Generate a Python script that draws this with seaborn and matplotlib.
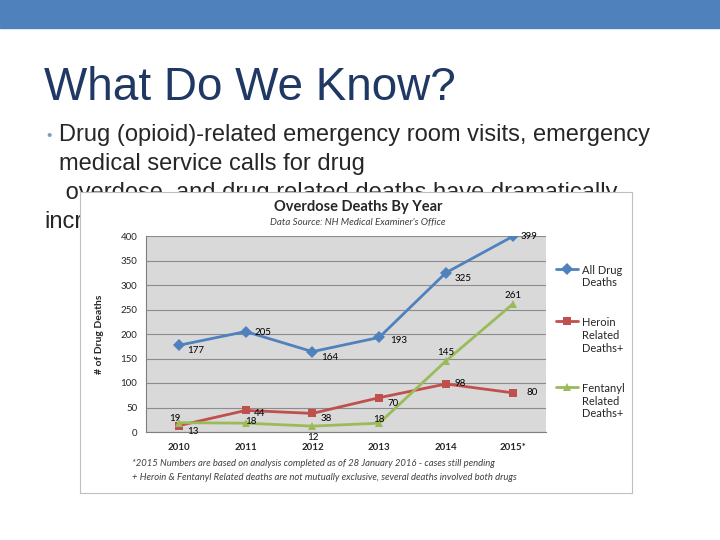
import matplotlib
matplotlib.use('Agg')
import matplotlib.pyplot as plt
from matplotlib.patches import Rectangle
import seaborn as sns
import pandas as pd

# Data
years = ['2010', '2011', '2012', '2013', '2014', '2015*']
all_drug = [177, 205, 164, 193, 325, 399]
heroin = [13, 44, 38, 70, 98, 80]
fentanyl = [19, 18, 12, 18, 145, 261]
series_names = ['All Drug\nDeaths', 'Heroin\nRelated\nDeaths+', 'Fentanyl\nRelated\nDeaths+']

# label offsets (points) per series
off_all = [(6, -4), (6, -1), (6, -4), (8, -2), (6, -4), (6, 0)]
off_her = [(6, -4), (6, -2), (6, -4), (6, -4), (6, 0), (10, 0)]
off_fen = [(-3, 3), (4, 1), (0, -8), (0, 3), (0, 6), (0, 6)]

sns.set_style('white')
plt.rcParams['font.family'] = ['Lato', 'DejaVu Sans']

W, H = 720, 540
fig = plt.figure(figsize=(7.2, 5.4), dpi=100)


def frac(x, y):
    return x / W, 1 - y / H


# slide background
bg = fig.add_axes([0, 0, 1, 1], zorder=0)
bg.set_xlim(0, W)
bg.set_ylim(H, 0)
bg.axis('off')
bg.add_patch(Rectangle((0, 0), W, 28, color='#4F81BD'))
slide_font = ['Liberation Sans', 'DejaVu Sans']
bg.text(44, 100, 'What Do We Know?', fontsize=33, color='#1F3864',
        family=slide_font, va='baseline')
bg.text(46, 140, '\u2022', fontsize=11, color='#7F9FBF', family=slide_font, va='baseline')
body = ['Drug (opioid)-related emergency room visits, emergency',
        'medical service calls for drug',
        ' overdose, and drug related deaths have dramatically']
for i, line in enumerate(body):
    bg.text(59, 141 + i * 29, line, fontsize=17, color='#262626',
            family=slide_font, va='baseline')
bg.text(44, 228, 'increased', fontsize=17, color='#262626',
        family=slide_font, va='baseline')

# chart box
x0, y0 = frac(80, 493)
box = fig.add_axes([x0, y0, 552 / W, 301 / H], zorder=1)
box.set_facecolor('white')
box.set_xticks([])
box.set_yticks([])
for s in box.spines.values():
    s.set_color('#BFBFBF')

# plot area
px0, py0 = frac(145.6, 432)
ax = fig.add_axes([px0, py0, 400.4 / W, 196 / H], zorder=2)
ax.set_facecolor('#D9D9D9')

df = pd.DataFrame({'year': years * 3,
                   'deaths': all_drug + heroin + fentanyl,
                   'series': [series_names[0]] * 6 + [series_names[1]] * 6 + [series_names[2]] * 6})
sns.lineplot(data=df, x='year', y='deaths', hue='series', style='series',
             palette=['#4F81BD', '#C0504D', '#9BBB59'],
             markers=['D', 's', '^'], dashes=False, sort=False,
             linewidth=2, markersize=6, markeredgewidth=0, ax=ax)

for vals, offs in [(all_drug, off_all), (heroin, off_her)]:
    for i, (v, o) in enumerate(zip(vals, offs)):
        ax.annotate(str(v), (i, v), xytext=o, textcoords='offset points',
                    fontsize=7, ha='left', va='center', color='black')
for i, (v, o) in enumerate(zip(fentanyl, off_fen)):
    ax.annotate(str(v), (i, v), xytext=o, textcoords='offset points',
                fontsize=7, ha='center', va='center', color='black')

ax.set_xlim(-0.5, 5.5)
ax.set_ylim(0, 400)
ax.set_yticks(range(0, 401, 50))
ax.yaxis.grid(True, color='#8C8C8C', linewidth=0.8)
ax.set_axisbelow(True)
ax.set_xticks([i - 0.5 for i in range(7)], minor=True)
ax.tick_params(axis='x', which='major', length=0, labelsize=7, pad=8)
ax.tick_params(axis='x', which='minor', length=4, direction='inout', color='#7F7F7F')
ax.tick_params(axis='y', length=0, labelsize=7, pad=6)
for lbl in ax.get_xticklabels():
    lbl.set_fontweight('bold')
for side in ['top', 'right']:
    ax.spines[side].set_visible(False)
ax.spines['left'].set_color('#7F7F7F')
ax.spines['bottom'].set_color('#7F7F7F')
ax.set_xlabel('')
ax.set_ylabel('# of Drug Deaths', fontsize=7.5, fontweight='bold', labelpad=12)

leg = ax.legend(loc='upper left', bbox_to_anchor=(1.0, 0.905), frameon=False,
                fontsize=8, labelspacing=2.6, handlelength=2.0, handletextpad=0.3)
# put each handle next to the first line of its label
for col in leg._legend_handle_box.get_children():
    for row in col.get_children():
        row.align = 'top'

# chart titles and footnotes
fig.text(*frac(358, 207), 'Overdose Deaths By Year', fontsize=10.5, fontweight='bold',
         ha='center', va='center', color='#262626')
fig.text(*frac(358, 223), "Data Source: NH Medical Examiner's Office", fontsize=7,
         style='italic', ha='center', va='center', color='#404040')
fig.text(*frac(132, 463), '*2015 Numbers are based on analysis completed as of 28 January 2016 - cases still pending',
         fontsize=6.8, style='italic', ha='left', va='center', color='#404040')
fig.text(*frac(132, 478), '+ Heroin & Fentanyl Related deaths are not mutually exclusive, several deaths involved both drugs',
         fontsize=6.8, style='italic', ha='left', va='center', color='#404040')

fig.savefig('out.png', dpi=100)
